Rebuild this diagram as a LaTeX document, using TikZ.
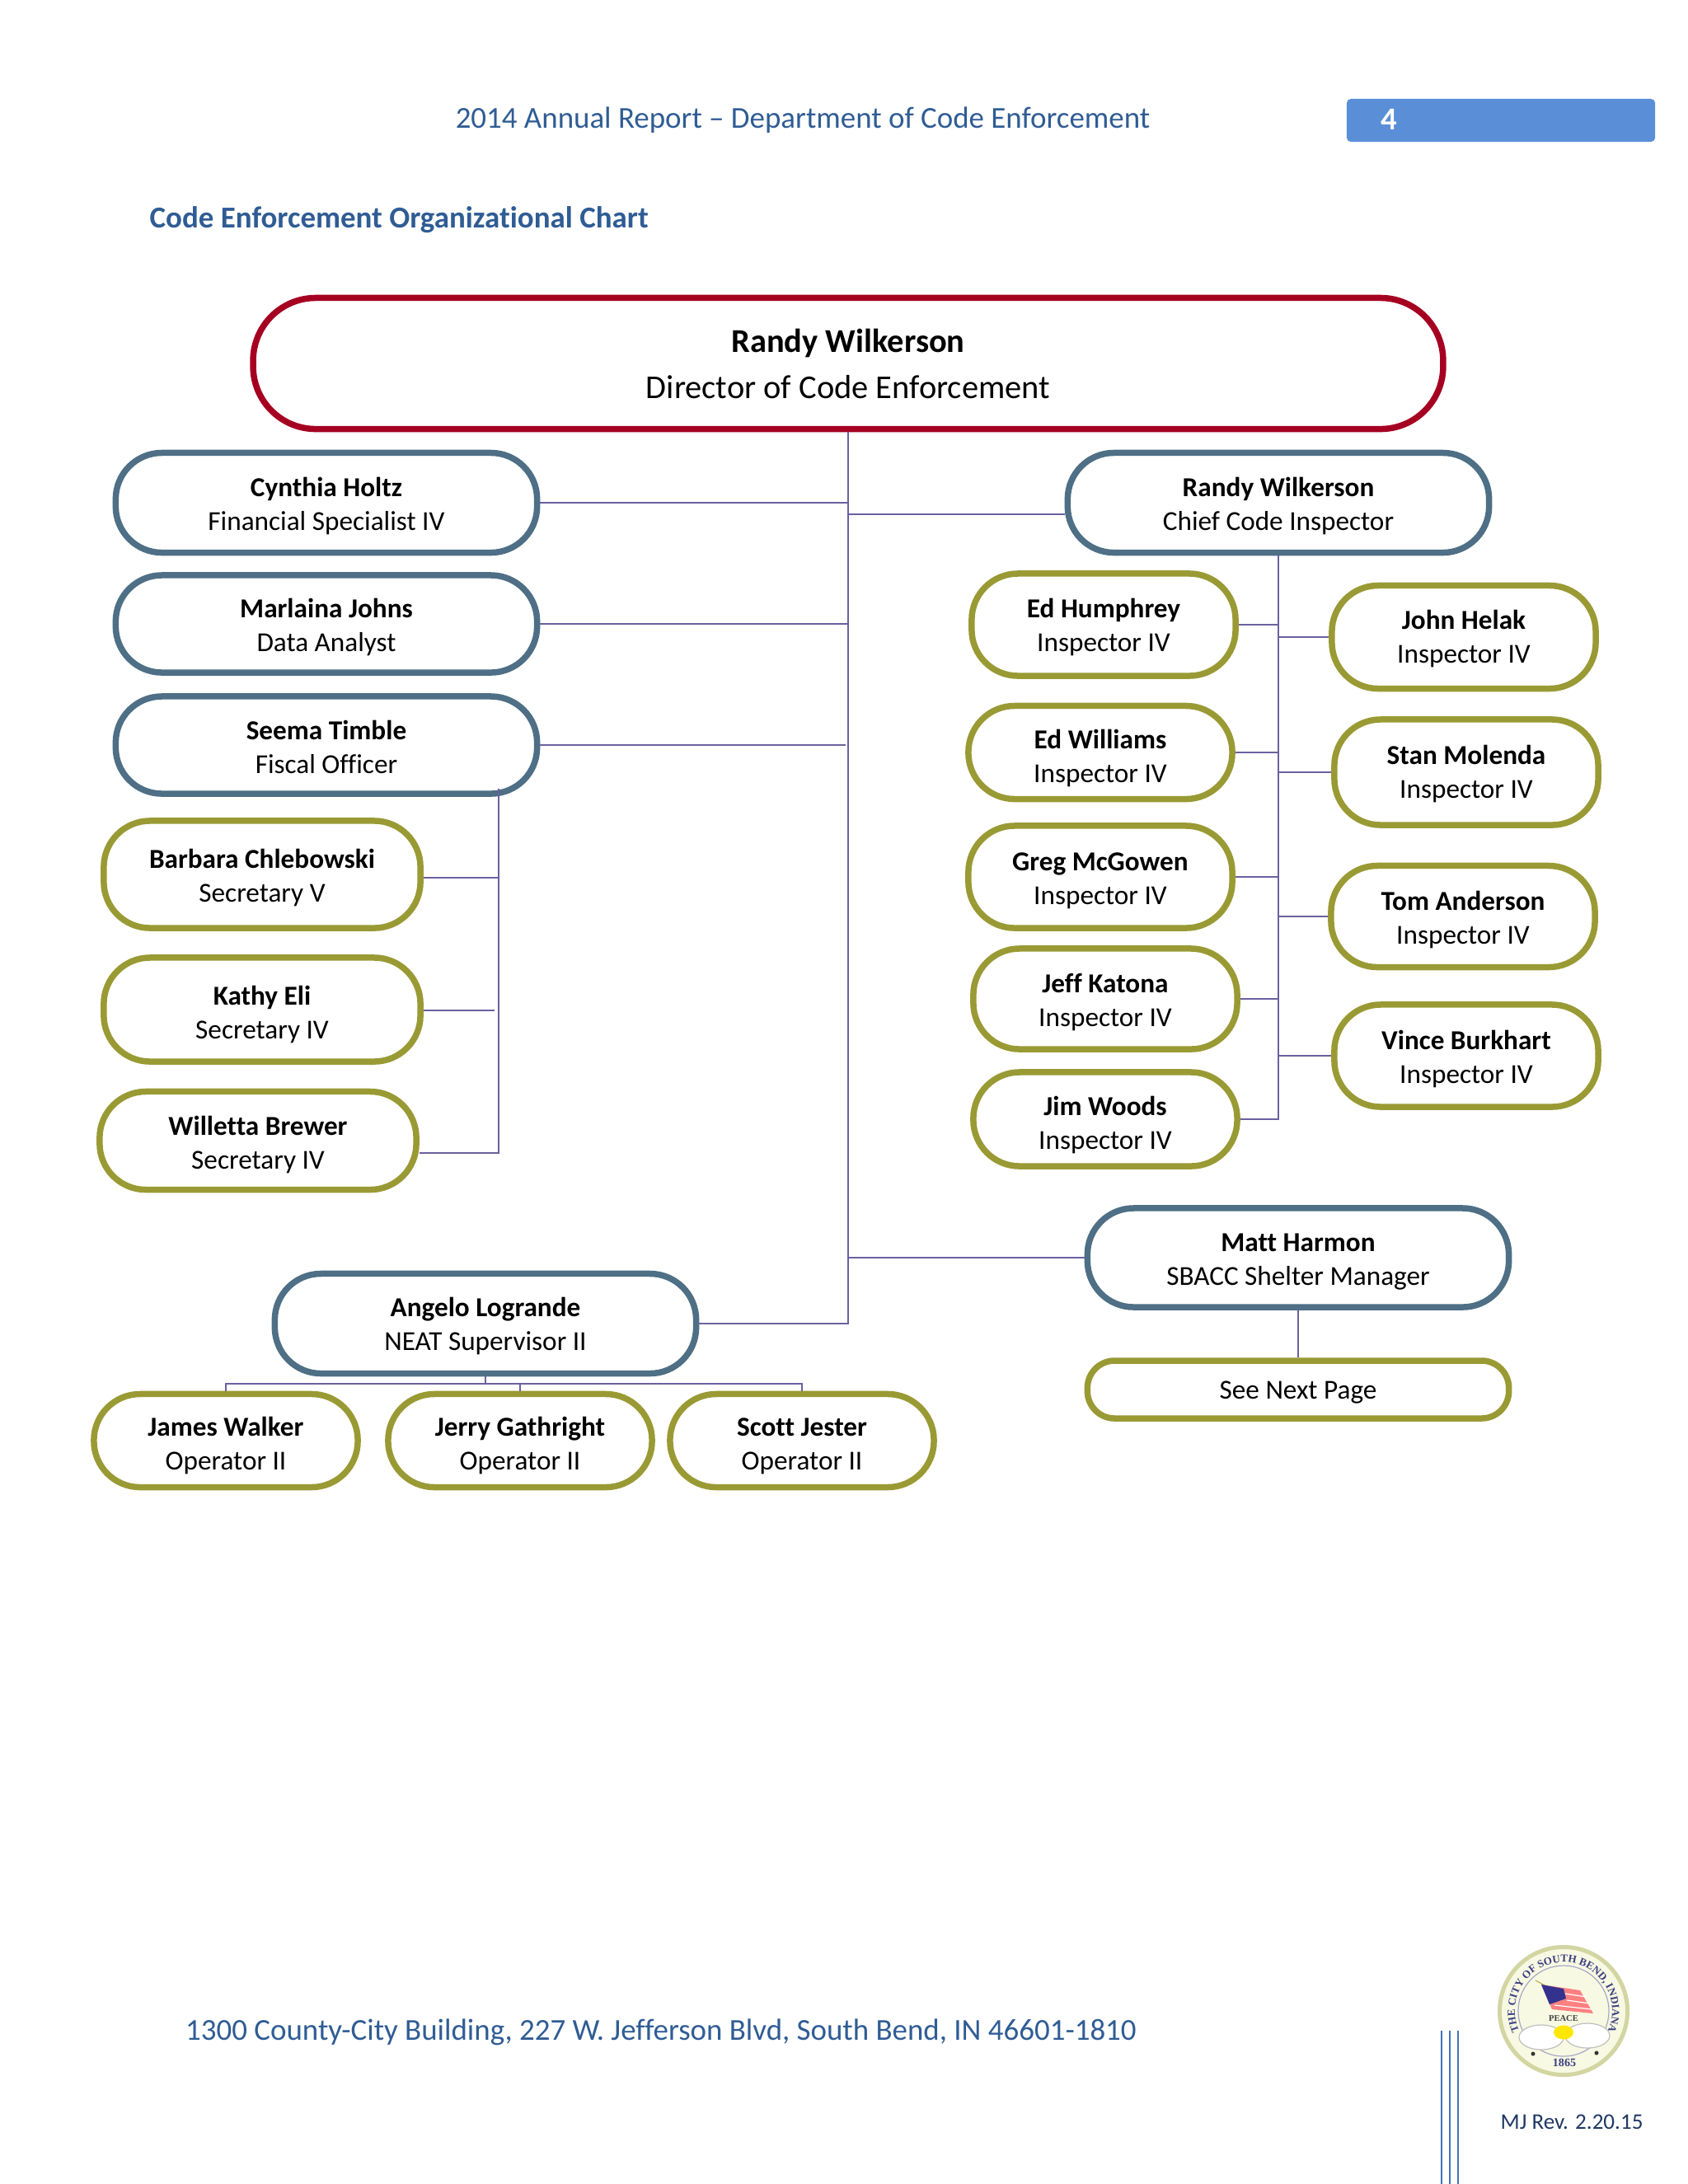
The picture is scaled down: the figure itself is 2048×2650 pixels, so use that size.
\documentclass[tikz,border=0pt]{standalone}
\usepackage{fontspec}
\usepackage{xcolor}
\usetikzlibrary{decorations.text}
\setmainfont{Carlito}[Ligatures={TeX,NoCommon}]
\newfontfamily\sealfont{Liberation Serif}
\definecolor{directorred}{HTML}{A50021}
\definecolor{managerteal}{HTML}{4E6F85}
\definecolor{staffolive}{HTML}{9A9A35}
\definecolor{linkpurple}{HTML}{6B60A0}
\definecolor{tabblue}{HTML}{5A8FD8}
\definecolor{headblue}{HTML}{2F5C94}
\definecolor{rulesblue}{HTML}{3F74B8}
\definecolor{revnavy}{HTML}{1F3864}
\definecolor{sealtan}{HTML}{D3D5A2}
\definecolor{sealpale}{HTML}{F8F9E2}
\definecolor{sealink}{HTML}{3A3F80}
\newcommand{\dropht}{20.5pt}
\tikzset{
  textdrop/.code={\renewcommand{\dropht}{#1pt}},
  person/.style={
    draw,
    fill=white,
    line width=0.075cm,
    rounded corners=0.56cm,
    align=center,
    inner sep=0pt,
    font=\fontsize{9.45}{11.7}\selectfont,
    execute at begin node={\rule{0pt}{\dropht}}
  },
  managerbox/.style={person, draw=managerteal, minimum width=5.11cm},
  staffbox/.style={person, draw=staffolive, minimum width=3.20cm},
  secretarybox/.style={person, draw=staffolive, minimum width=3.84cm},
  link/.style={draw=linkpurple, line width=0.025cm}
}

\begin{document}
\begin{tikzpicture}[x=0.01cm, y=-0.01cm]
  \useasboundingbox (0,0) rectangle (2048,2650);

  \node[inner sep=0pt, text=headblue, font=\fontsize{10.5}{12}\selectfont] (header) at (974,146)
    {2014 Annual Report -- Department of Code Enforcement};
  \node[fill=tabblue, rounded corners=0.05cm, minimum width=3.74cm, minimum height=0.52cm] (tab) at (1821,146) {};
  \node[inner sep=0pt, text=white, font=\fontsize{11}{12}\selectfont\bfseries] (pagenum) at (1685,145) {4};
  \node[inner sep=0pt, text=headblue, anchor=west, font=\fontsize{10.5}{12}\selectfont\bfseries] (title) at (181,267)
    {Code Enforcement Organizational Chart};

  \node[
    person,
    draw=directorred,
    rounded corners=0.76cm,
    minimum width=14.43cm,
    minimum height=1.59cm,
    textdrop=0,
    font=\fontsize{11.5}{15.9}\selectfont
  ] (director) at (1029,441) {\textbf{Randy Wilkerson}\\Director of Code Enforcement};

  \node[managerbox, minimum height=1.21cm] (cynthia) at (396,610) {\textbf{Cynthia Holtz}\\Financial Specialist IV};
  \node[managerbox, minimum height=1.18cm] (marlaina) at (396,757) {\textbf{Marlaina Johns}\\Data Analyst};
  \node[managerbox, minimum height=1.18cm, textdrop=19.5] (seema) at (396,904) {\textbf{Seema Timble}\\Fiscal Officer};
  \node[secretarybox, minimum height=1.30cm] (barbara) at (318,1061) {\textbf{Barbara Chlebowski}\\Secretary V};
  \node[secretarybox, minimum height=1.26cm, textdrop=21.5] (kathy) at (318,1225) {\textbf{Kathy Eli}\\Secretary IV};
  \node[secretarybox, minimum height=1.19cm, textdrop=21] (willetta) at (313,1384) {\textbf{Willetta Brewer}\\Secretary IV};

  \node[managerbox, minimum height=1.21cm, textdrop=20] (angelo) at (589,1606) {\textbf{Angelo Logrande}\\NEAT Supervisor II};
  \node[staffbox, minimum height=1.13cm, textdrop=21.5] (james) at (274,1748) {\textbf{James Walker}\\Operator II};
  \node[staffbox, minimum height=1.13cm, textdrop=21.5] (jerry) at (631,1748) {\textbf{Jerry Gathright}\\Operator II};
  \node[staffbox, minimum height=1.13cm, textdrop=21.5] (scott) at (973,1748) {\textbf{Scott Jester}\\Operator II};

  \node[managerbox, minimum height=1.21cm] (chief) at (1551,610) {\textbf{Randy Wilkerson}\\Chief Code Inspector};
  \node[staffbox, minimum height=1.24cm, textdrop=20] (humphrey) at (1339,758) {\textbf{Ed Humphrey}\\Inspector IV};
  \node[staffbox, minimum height=1.13cm, textdrop=22.5] (williams) at (1335,913) {\textbf{Ed Williams}\\Inspector IV};
  \node[staffbox, minimum height=1.24cm] (mcgowen) at (1335,1064) {\textbf{Greg McGowen}\\Inspector IV};
  \node[staffbox, minimum height=1.22cm] (katona) at (1341,1212) {\textbf{Jeff Katona}\\Inspector IV};
  \node[staffbox, minimum height=1.14cm, textdrop=22.5] (woods) at (1341,1358) {\textbf{Jim Woods}\\Inspector IV};
  \node[staffbox, minimum height=1.25cm, textdrop=19.5] (helak) at (1776,773) {\textbf{John Helak}\\Inspector IV};
  \node[staffbox, minimum height=1.28cm, textdrop=19.5] (molenda) at (1779,937) {\textbf{Stan Molenda}\\Inspector IV};
  \node[staffbox, minimum height=1.23cm] (anderson) at (1775,1112) {\textbf{Tom Anderson}\\Inspector IV};
  \node[staffbox, minimum height=1.24cm] (burkhart) at (1779,1281) {\textbf{Vince Burkhart}\\Inspector IV};

  \node[managerbox, minimum height=1.20cm] (matt) at (1575,1526) {\textbf{Matt Harmon}\\SBACC Shelter Manager};
  \node[person, draw=staffolive, rounded corners=0.33cm, minimum width=5.11cm, minimum height=0.70cm, textdrop=8] (nextpage) at (1575,1686) {See Next Page};

  \coordinate (seemaend) at (1026,904);
  \coordinate (chiefjoin) at (1029,624);
  \coordinate (sectop) at (605,957);
  \coordinate (secbottom) at (605,1399);
  \coordinate (secbarbara) at (605,1065);
  \coordinate (seckathy) at (600,1226);
  \coordinate (opbus) at (589,1679);

  \draw[link] (director.south) -- (director.south |- angelo.east) -- (angelo.east);
  \draw[link] (cynthia.east) -- (cynthia.east -| director.south);
  \draw[link] (marlaina.east) -- (marlaina.east -| director.south);
  \draw[link] (seema.east) -- (seemaend);
  \draw[link] (chiefjoin) -- (chief.west |- chiefjoin);
  \draw[link] (matt.west) -- (matt.west -| director.south);

  \draw[link] (sectop) -- (secbottom) -- (willetta.east |- secbottom);
  \draw[link] (barbara.east |- secbarbara) -- (secbarbara);
  \draw[link] (kathy.east |- seckathy) -- (seckathy);

  \draw[link] (angelo.south) -- (opbus);
  \draw[link] (james.north) |- (opbus) -| (scott.north);
  \draw[link] (jerry.north) -- (jerry.north |- opbus);

  \draw[link] (chief.south) -- (woods.east -| chief.south) -- (woods.east);
  \draw[link] (humphrey.east) -- (humphrey.east -| chief.south);
  \draw[link] (williams.east) -- (williams.east -| chief.south);
  \draw[link] (mcgowen.east) -- (mcgowen.east -| chief.south);
  \draw[link] (katona.east) -- (katona.east -| chief.south);
  \draw[link] (helak.west) -- (helak.west -| chief.south);
  \draw[link] (molenda.west) -- (molenda.west -| chief.south);
  \draw[link] (anderson.west) -- (anderson.west -| chief.south);
  \draw[link] (burkhart.west) -- (burkhart.west -| chief.south);

  \draw[link] (matt.south) -- (nextpage.north);

  \node[inner sep=0pt, text=headblue, font=\fontsize{10.5}{12}\selectfont] (address) at (802,2466)
    {1300 County-City Building, 227 W. Jefferson Blvd, South Bend, IN 46601-1810};
  \node[inner sep=0pt, text=revnavy, anchor=west, font=\fontsize{7.7}{9}\selectfont] (revision) at (1820,2575) {MJ Rev. 2.20.15};

  \draw[rulesblue, line width=0.025cm] (1749,2464) -- (1749,2650);
  \draw[rulesblue, line width=0.025cm] (1759,2464) -- (1759,2650);
  \draw[rulesblue, line width=0.025cm] (1769,2464) -- (1769,2650);

  \coordinate (seal) at (1897,2440);
  \draw[sealtan, line width=0.05cm, fill=sealpale] (seal) circle[radius=0.775cm];
  \draw[sealink!45, line width=0.012cm] (seal) circle[radius=0.55cm];
  \path[decorate, decoration={text along path, text align=center,
      text={|\sealfont\fontsize{3.7}{4}\selectfont\bfseries\color{sealink}|THE CITY OF SOUTH BEND, INDIANA}}]
    (seal) ++(212:0.59cm) arc[start angle=212, end angle=-32, radius=0.59cm];
  \draw[olive!70, line width=0.01cm] (1863,2403) -- (1880,2412);
  \fill[red!50!white] (1870,2408) -- (1917,2415) -- (1933,2443) -- (1883,2438) -- cycle;
  \draw[white, line width=0.012cm] (1899,2419) -- (1925,2423);
  \draw[white, line width=0.012cm] (1901,2427) -- (1929,2431);
  \draw[white, line width=0.012cm] (1886,2433) -- (1931,2438);
  \fill[blue!45!black!80] (1870,2408) -- (1897,2413) -- (1900,2425) -- (1880,2432) -- cycle;
  \node[inner sep=0pt, text=black!75, font=\sealfont\fontsize{3}{3}\selectfont\bfseries] (sealword) at (1897,2449) {PEACE};
  \draw[black!25, line width=0.012cm, fill=white] (1870,2472) ellipse[x radius=0.27cm, y radius=0.15cm];
  \draw[black!25, line width=0.012cm, fill=white] (1926,2470) ellipse[x radius=0.27cm, y radius=0.15cm];
  \fill[yellow!90!orange] (1897,2466) ellipse[x radius=0.12cm, y radius=0.085cm];
  \fill[black!80] (1860,2492) circle[radius=0.025cm];
  \fill[black!80] (1937,2491) circle[radius=0.025cm];
  \node[inner sep=0pt, text=sealink, font=\sealfont\fontsize{4}{4}\selectfont\bfseries] (sealyear) at (1898,2503) {1865};
\end{tikzpicture}
\end{document}
